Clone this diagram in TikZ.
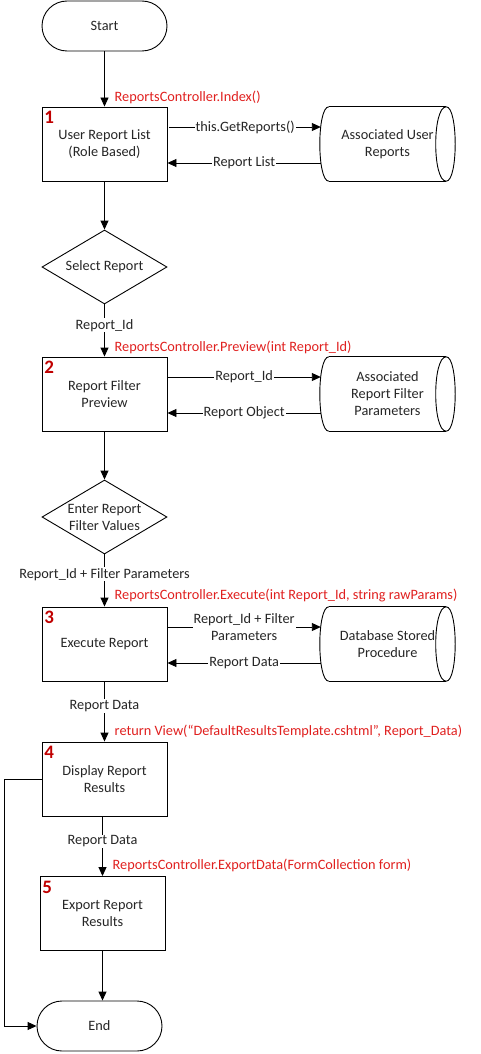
\documentclass[tikz,border=0pt]{standalone}
\usepackage{fontspec}
\setmainfont{Carlito}
\usetikzlibrary{arrows.meta,shapes.geometric,calc}
\definecolor{txt}{HTML}{262626}
\definecolor{redlbl}{HTML}{E0201F}
\definecolor{numred}{HTML}{C00000}
\begin{document}
\begin{tikzpicture}[x=1pt,y=-1pt,
  every node/.style={font=\fontsize{14.3}{17}\selectfont, text=txt},
  box/.style={draw, line width=0.9pt, minimum width=125pt, minimum height=74pt, inner sep=0pt, align=center},
  term/.style={draw, line width=0.9pt, rounded corners=25pt, minimum width=125pt, minimum height=50pt, inner sep=0pt},
  dec/.style={draw, diamond, aspect=1.69, line width=0.9pt, minimum width=125pt, minimum height=74pt, inner sep=0pt, align=center},
  store/.style={minimum width=117pt, minimum height=74pt, inner sep=0pt, align=center},
  arr/.style={-{Triangle[length=9pt,width=8pt]}, line width=0.9pt},
  ln/.style={line width=0.9pt},
  lbl/.style={fill=white, inner sep=1pt, align=center},
  code/.style={anchor=west, text=redlbl, inner sep=0pt},
  num/.style={anchor=north west, text=numred, font=\fontsize{19}{19}\selectfont\bfseries, inner sep=0pt}
]
\useasboundingbox (0,0) rectangle (481,1054);

% nodes
\node[term] (start) at (104.5,26) {Start};
\node[box] (b1) at (104.5,144) {User Report List\\(Role Based)};
\node[store] (c1) at (387.5,144) {Associated User\\Reports};
\node[dec] (d1) at (104.5,267) {Select Report};
\node[box] (b2) at (104.5,394) {Report Filter\\Preview};
\node[store] (c2) at (387.5,394) {Associated\\Report Filter\\Parameters};
\node[dec] (d2) at (104.5,517) {Enter Report\\Filter Values};
\node[box] (b3) at (104.5,644) {Execute Report};
\node[store] (c3) at (387.5,644) {Database Stored\\Procedure};
\node[box] (b4) at (104.5,779) {Display Report\\Results};
\node[box] (b5) at (102.5,913.5) {Export Report\\Results};
\node[term] (end) at (99.5,1026) {End};

% cylinders
\foreach \c in {c1,c2,c3}{
  \draw[ln] (\c.north west) -- (\c.north east) (\c.south west) -- (\c.south east);
  \draw[ln] (\c.north west) .. controls +(-12,0) and +(-12,0) .. (\c.south west);
  \draw[ln] (\c.north east) .. controls +(-14,0) and +(-14,0) .. (\c.south east)
            .. controls +(12,0) and +(12,0) .. (\c.north east);
}

% numbers
\node[num] at ([xshift=2.5pt,yshift=-4.5pt]b1.north west) {1};
\node[num] at ([xshift=2.5pt,yshift=-4.5pt]b2.north west) {2};
\node[num] at ([xshift=2.5pt,yshift=-4.5pt]b3.north west) {3};
\node[num] at ([xshift=2.5pt,yshift=-4.5pt]b4.north west) {4};
\node[num] at ([xshift=2.5pt,yshift=-4.5pt]b5.north west) {5};

% red code labels
\node[code] at ([xshift=10pt,yshift=9pt]b1.north) {ReportsController.Index()};
\node[code] at ([xshift=10pt,yshift=9pt]b2.north) {ReportsController.Preview(int Report\_Id)};
\node[code] at ([xshift=10pt,yshift=11pt]b3.north) {ReportsController.Execute(int Report\_Id, string rawParams)};
\node[code] at ([xshift=10pt,yshift=10pt]b4.north) {return View(“DefaultResultsTemplate.cshtml”, Report\_Data)};
\node[code] at ([xshift=10pt,yshift=11pt]b5.north) {ReportsController.ExportData(FormCollection form)};

% vertical flow
\draw[arr] (start.south) -- (b1.north);
\draw[arr] (b1.south) -- (d1.north);
\draw[arr] (d1.south) -- node[lbl, pos=0.4] {Report\_Id} (b2.north);
\draw[arr] (b2.south) -- (d2.north);
\draw[arr] (d2.south) -- node[lbl, pos=0.38] {Report\_Id + Filter Parameters} (b3.north);
\draw[arr] (b3.south) -- node[lbl, pos=0.41] {Report Data} (b4.north);
\draw[arr] (b5.north |- b4.south) -- node[lbl, pos=0.42] {Report Data} (b5.north);
\draw[arr] (b5.south) -- (b5.south |- end.north);
\draw[arr] (b4.west) -- ++(-37,0) |- (end.west);

% horizontal data flows
\draw[arr] ([xshift=2pt,yshift=17pt]b1.east) -- node[lbl] {this.GetReports()} ([xshift=-8pt,yshift=17pt]c1.west);
\draw[arr] ([xshift=-8pt,yshift=-19pt]c1.west) -- node[lbl] {Report List} ([yshift=-19pt]b1.east);
\draw[arr] ([yshift=17pt]b2.east) -- node[lbl] {Report\_Id} ([xshift=-8pt,yshift=17pt]c2.west);
\draw[arr] ([xshift=-8pt,yshift=-19pt]c2.west) -- node[lbl] {Report Object} ([yshift=-19pt]b2.east);
\draw[arr] ([yshift=17pt]b3.east) -- node[lbl] {Report\_Id + Filter\\Parameters} ([xshift=-8pt,yshift=17pt]c3.west);
\draw[arr] ([xshift=-8pt,yshift=-19pt]c3.west) -- node[lbl] {Report Data} ([yshift=-19pt]b3.east);
\end{tikzpicture}
\end{document}
